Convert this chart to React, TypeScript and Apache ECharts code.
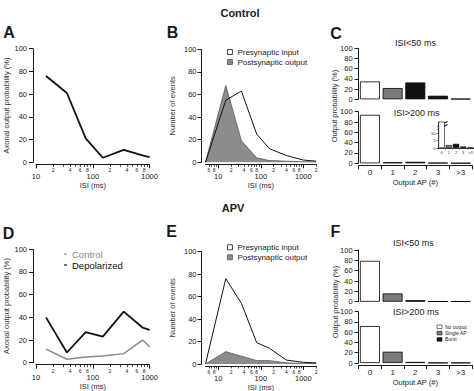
import React, { useEffect, useRef } from 'react';
import * as echarts from 'echarts';

const FONT = '"Liberation Sans", Arial, Helvetica, sans-serif';
const INK = '#1a1a1a';

// ---------- data ----------
// Panel A (Control): axonal output probability vs ISI
const isiA = [15, 35, 75, 150, 350, 750, 1000];
const outputProbA = [76, 61, 21, 4, 11, 6, 4.5];
// Panel B (Control): number of events vs ISI
const isiB = [5, 15, 35, 80, 160, 400, 1000, 2000];
const preB = [0, 55, 63, 25, 12, 6, 2, 1];
const postB = [0, 68, 19, 4, 1.5, 1, 0.5, 0.3];
// Panel C (Control): output probability per number of output APs
const apCats = ['0', '1', '2', '3', '>3'];
const cLt50 = [35, 22, 33, 7, 1];
const cGt200 = [94, 2, 2.8, 1, 0.4];
// Panel D (APV): axonal output probability
const isiD = [15, 35, 75, 150, 350, 750, 1000];
const controlD = [12, 3, 5, 6, 8, 20, 14];
const depolD = [40, 9, 27, 23, 45, 31, 29];
// Panel E (APV): number of events
const isiE = [5, 15, 35, 80, 160, 400, 1000, 2000];
const preE = [0, 76, 54, 19, 14, 3.5, 1.5, 1];
const postE = [0, 11, 7, 3, 3, 1, 0.5, 0.5];
// Panel F (APV): output probability
const fLt50 = [79, 16, 3, 0.8, 0.8];
const fGt200 = [72, 22, 2, 0.6, 0.6];

// ---------- tick labels ----------
const pctTicks = [0, 20, 40, 60, 80, 100];
const majorIsi = [10, 100, 1000];
const minorTicksA = [20, 30, 40, 50, 60, 70, 80, 90, 200, 300, 400, 500, 600, 700, 800, 900];
const minorLabelsA = [20, 40, 60, 80, 200, 400, 600, 800];
const minorTicksB = [6, 7, 8, 9, 20, 30, 40, 50, 60, 70, 80, 90, 200, 300, 400, 500, 600, 700, 800, 900, 2000];
const minorLabelsB = [6, 8, 20, 40, 60, 80, 200, 400, 600, 800, 2000];
const insetTicks = [0, 5, 10];

// ---------- styles ----------
const barColorsLt = ['#ffffff', '#7a7a7a', '#111111', '#111111', '#111111'];
const barColorsGt = ['#ffffff', '#7a7a7a', '#111111', '#111111', '#111111'];
const legendF = [
  { label: 'No output', color: '#ffffff' },
  { label: 'Single AP', color: '#7a7a7a' },
  { label: 'Burst', color: '#111111' },
];

const lg = (v: number) => Math.log10(v);
const txt = (size: number, extra: any = {}) => ({ fontSize: size, fontFamily: FONT, color: INK, ...extra });

function grid(left: number, top: number, width: number, height: number) {
  return { left, top, width, height, containLabel: false, outerBoundsMode: 'none' };
}

function logX(gridIndex: number, min: number, max: number, minorTicks: number[], minorLabels: number[]) {
  return [
    {
      type: 'value', gridIndex, min: lg(min), max: lg(max), position: 'bottom', offset: 2,
      axisLine: { show: true, onZero: false, lineStyle: { color: INK, width: 1 } },
      axisTick: { show: true, length: 4, customValues: majorIsi.map(lg), lineStyle: { color: INK, width: 1 } },
      axisLabel: {
        show: true, customValues: majorIsi.map(lg), margin: 8.5,
        formatter: (v: number) => String(Math.round(Math.pow(10, v))), ...txt(7.5),
      },
      splitLine: { show: false },
      name: 'ISI (ms)', nameLocation: 'middle', nameGap: 17, nameTextStyle: txt(7.5),
    },
    {
      type: 'value', gridIndex, min: lg(min), max: lg(max), position: 'bottom', offset: 2,
      axisLine: { show: false, onZero: false },
      axisTick: { show: true, length: 2.5, customValues: minorTicks.map(lg), lineStyle: { color: INK, width: 0.8 } },
      axisLabel: {
        show: true, customValues: minorLabels.map(lg), margin: 3.5,
        formatter: (v: number) => String(Math.round(Math.pow(10, v))).charAt(0), ...txt(5),
      },
      splitLine: { show: false },
    },
  ];
}

function pctY(gridIndex: number, offset: number, margin: number, name = '', nameGap = 0) {
  return {
    type: 'value', gridIndex, min: 0, max: 100, interval: 20, position: 'left', offset,
    axisLine: { show: true, lineStyle: { color: INK, width: 1 } },
    axisTick: { show: true, length: 4, lineStyle: { color: INK, width: 1 } },
    axisLabel: { show: true, margin, customValues: pctTicks, ...txt(7.5) },
    splitLine: { show: false },
    name, nameLocation: 'middle', nameRotate: 90, nameGap, nameTextStyle: txt(7.5, { color: '#333' }),
  };
}

function catX(gridIndex: number, shown: boolean) {
  return {
    type: 'category', gridIndex, data: apCats, position: 'bottom', offset: 2,
    axisLine: { show: shown, onZero: false, lineStyle: { color: INK, width: 1 } },
    axisTick: { show: shown, length: 4, lineStyle: { color: INK } },
    axisLabel: { show: shown, margin: 3, ...txt(8) },
    splitLine: { show: false },
    name: shown ? 'Output AP (#)' : '', nameLocation: 'middle', nameGap: 13, nameTextStyle: txt(7.5),
  };
}

function bars(xAxisIndex: number, yAxisIndex: number, values: number[], colors: string[], bw = 0.8) {
  return {
    type: 'bar', xAxisIndex, yAxisIndex, barCategoryGap: '12%', clip: true,
    data: values.map((v, i) => ({ value: v, itemStyle: { color: colors[i] } })),
    itemStyle: { borderColor: '#000', borderWidth: bw },
  };
}

function label(text: string, x: number, y: number, size: number, opts: any = {}) {
  return {
    type: 'text', x, y, rotation: opts.rotation || 0,
    style: {
      text, fill: opts.fill || INK,
      font: `${opts.bold ? 'bold ' : ''}${size}px ${FONT}`,
      align: opts.align || 'center', textAlign: opts.align || 'center',
      verticalAlign: 'middle', textVerticalAlign: 'middle',
    },
  };
}

const option: any = {
  animation: false,
  backgroundColor: '#fff',
  textStyle: { fontFamily: FONT },
  grid: [
    grid(36, 48.7, 113.6, 113.6), // A
    grid(205.5, 49.3, 110.6, 113), // B
    grid(358.6, 48.3, 113.4, 51), // C top
    grid(358.6, 111.7, 113.4, 51.6), // C bottom
    grid(438, 122, 36, 26), // C inset
    grid(36, 249.3, 113.6, 113.4), // D
    grid(205.5, 251.7, 110.6, 112.3), // E
    grid(358.6, 250, 113.4, 51.7), // F top
    grid(358.6, 311.7, 113.4, 51.3), // F bottom
  ],
  xAxis: [
    ...logX(0, 10, 1000, minorTicksA, minorLabelsA), // 0,1
    ...logX(1, 5, 2000, minorTicksB, minorLabelsB), // 2,3
    catX(2, false), // 4
    catX(3, true), // 5
    {
      type: 'category', gridIndex: 4, data: apCats, position: 'bottom',
      axisLine: { show: true, lineStyle: { color: INK, width: 0.8 } },
      axisTick: { show: true, length: 1.5, lineStyle: { color: INK, width: 0.6 } },
      axisLabel: { show: true, margin: 2, ...txt(4) },
    }, // 6
    ...logX(5, 10, 1000, minorTicksA, minorLabelsA), // 7,8
    ...logX(6, 5, 2000, minorTicksB, minorLabelsB), // 9,10
    catX(7, false), // 11
    catX(8, true), // 12
  ],
  yAxis: [
    pctY(0, 3, 6, 'Axonal output probability (%)', 23), // 0
    pctY(1, 4, 5, 'Number of events', 25), // 1
    pctY(2, 0, 6), // 2
    pctY(3, 0, 6), // 3
    {
      type: 'value', gridIndex: 4, min: 0, max: 17.7, position: 'left',
      axisLine: { show: true, lineStyle: { color: INK, width: 0.8 } },
      axisTick: { show: true, length: 1.5, customValues: insetTicks, lineStyle: { color: INK, width: 0.6 } },
      axisLabel: { show: true, margin: 2.5, customValues: insetTicks, ...txt(4) },
      splitLine: { show: false },
    }, // 4
    pctY(5, 3, 6, 'Axonal output probability (%)', 23), // 5
    pctY(6, 4, 5, 'Number of events', 25), // 6
    pctY(7, 0, 6), // 7
    pctY(8, 0, 6), // 8
  ],
  legend: [
    {
      left: 227, top: 47, orient: 'vertical', padding: 0, itemWidth: 5, itemHeight: 5, itemGap: 0,
      selectedMode: false, textStyle: txt(8, { lineHeight: 10 }),
      data: [
        { name: 'Presynaptic input', icon: 'rect', itemStyle: { color: '#fff', borderColor: '#111', borderWidth: 0.8 } },
        { name: 'Postsynaptic output', icon: 'rect', itemStyle: { color: '#8c8c8c', borderColor: '#555', borderWidth: 0.8 } },
      ],
    },
    {
      left: 227, top: 242.3, orient: 'vertical', padding: 0, itemWidth: 5, itemHeight: 5, itemGap: 0,
      selectedMode: false, textStyle: txt(8, { lineHeight: 10 }),
      data: [
        { name: 'Presynaptic input', icon: 'rect', itemStyle: { color: '#fff', borderColor: '#111', borderWidth: 0.8 } },
        { name: 'Postsynaptic output', icon: 'rect', itemStyle: { color: '#8c8c8c', borderColor: '#555', borderWidth: 0.8 } },
      ],
    },
    {
      left: 64, top: 248.5, orient: 'vertical', padding: 0, itemWidth: 3, itemHeight: 1.2, itemGap: 0,
      selectedMode: false, textStyle: txt(9.5, { lineHeight: 11 }),
      data: [
        { name: 'Control', icon: 'rect', itemStyle: { color: '#8a8a8a' }, textStyle: { color: '#8a8a8a' } },
        { name: 'Depolarized', icon: 'rect', itemStyle: { color: '#111' }, textStyle: { color: '#111' } },
      ],
    },
  ],
  series: [
    {
      type: 'line', name: 'A', xAxisIndex: 0, yAxisIndex: 0, symbol: 'none',
      data: isiA.map((v, i) => [lg(v), outputProbA[i]]),
      lineStyle: { color: '#111', width: 1.8 },
    },
    {
      type: 'line', name: 'Postsynaptic output', xAxisIndex: 2, yAxisIndex: 1, symbol: 'none', z: 2,
      data: isiB.map((v, i) => [lg(v), postB[i]]),
      lineStyle: { color: '#555', width: 0.8 }, itemStyle: { color: '#8c8c8c' },
      areaStyle: { color: '#8c8c8c', opacity: 1 },
    },
    {
      type: 'line', name: 'Presynaptic input', xAxisIndex: 2, yAxisIndex: 1, symbol: 'none', z: 3,
      data: isiB.map((v, i) => [lg(v), preB[i]]),
      lineStyle: { color: '#111', width: 1 }, itemStyle: { color: '#fff' },
    },
    bars(4, 2, cLt50, barColorsLt),
    bars(5, 3, cGt200, barColorsGt),
    bars(6, 4, cGt200, barColorsGt, 0.6),
    {
      type: 'line', name: 'Control', xAxisIndex: 7, yAxisIndex: 5, symbol: 'none',
      data: isiD.map((v, i) => [lg(v), controlD[i]]),
      lineStyle: { color: '#8a8a8a', width: 1.5 }, itemStyle: { color: '#8a8a8a' },
    },
    {
      type: 'line', name: 'Depolarized', xAxisIndex: 7, yAxisIndex: 5, symbol: 'none',
      data: isiD.map((v, i) => [lg(v), depolD[i]]),
      lineStyle: { color: '#111', width: 1.8 }, itemStyle: { color: '#111' },
    },
    {
      type: 'line', name: 'Postsynaptic output', xAxisIndex: 9, yAxisIndex: 6, symbol: 'none', z: 2,
      data: isiE.map((v, i) => [lg(v), postE[i]]),
      lineStyle: { color: '#555', width: 0.8 }, itemStyle: { color: '#8c8c8c' },
      areaStyle: { color: '#8c8c8c', opacity: 1 },
    },
    {
      type: 'line', name: 'Presynaptic input', xAxisIndex: 9, yAxisIndex: 6, symbol: 'none', z: 3,
      data: isiE.map((v, i) => [lg(v), preE[i]]),
      lineStyle: { color: '#111', width: 1 }, itemStyle: { color: '#fff' },
    },
    bars(11, 7, fLt50, barColorsLt),
    bars(12, 8, fGt200, barColorsGt),
  ],
  graphic: [
    label('Control', 240, 13, 11, { bold: true }),
    label('APV', 233, 208, 11, { bold: true }),
    label('A', 9, 32, 16, { bold: true }),
    label('B', 172.5, 32.3, 16, { bold: true }),
    label('C', 336, 33, 16, { bold: true }),
    label('D', 8.5, 233.3, 16, { bold: true }),
    label('E', 171.7, 231.7, 16, { bold: true }),
    label('F', 335.3, 231.7, 16, { bold: true }),
    label('ISI<50 ms', 415.5, 43.3, 9),
    label('ISI>200 ms', 416.7, 112.7, 9),
    label('ISI<50 ms', 413.3, 243.3, 9),
    label('ISI>200 ms', 416, 312, 9),
    label('Output probability (%)', 334, 106, 7.5, { rotation: Math.PI / 2, fill: '#333' }),
    label('Output probability (%)', 335, 302, 7.5, { rotation: Math.PI / 2, fill: '#333' }),
    { type: 'line', shape: { x1: 437.5, y1: 126.5, x2: 447.5, y2: 121.5 }, style: { stroke: '#111', lineWidth: 1.1 } },
    { type: 'line', shape: { x1: 437.5, y1: 129.5, x2: 447.5, y2: 124.5 }, style: { stroke: '#111', lineWidth: 1.1 } },
    ...legendF.flatMap((item, i) => [
      { type: 'rect', shape: { x: 437, y: 325 + i * 6.3, width: 5, height: 3.6 }, style: { fill: item.color, stroke: '#111', lineWidth: 0.6 } },
      label(item.label, 445, 326.8 + i * 6.3, 5, { align: 'left' }),
    ]),
  ],
};

export default function App() {
  const ref = useRef<HTMLDivElement>(null);
  useEffect(() => {
    const chart = echarts.init(ref.current!, null, { renderer: 'svg' });
    chart.setOption(option);
    return () => chart.dispose();
  }, []);
  return (
    <div
      ref={ref}
      style={{ position: 'absolute', left: 0, top: 0, width: 474, height: 391, background: '#fff' }}
    />
  );
}
